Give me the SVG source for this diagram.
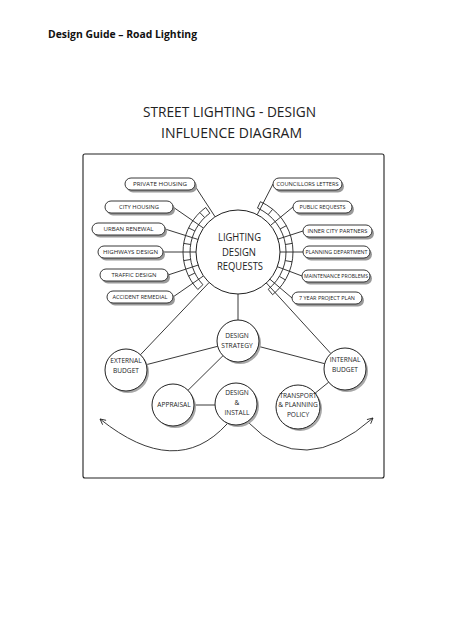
<svg xmlns="http://www.w3.org/2000/svg" width="452" height="640" viewBox="0 0 452 640">
<defs>
<style>
.pill{fill:#fff;stroke:#222;stroke-width:0.9}
.psh{fill:#9a9a9a}
.pt{font-family:"Open Sans","Liberation Sans",sans-serif;font-size:5.3px;fill:#222;text-anchor:middle}
.ct{font-family:"Open Sans","Liberation Sans",sans-serif;font-size:6.6px;fill:#222;text-anchor:middle}
.node{fill:#fff;stroke:#222;stroke-width:1}
.csh{fill:#a8a8a8}
.ln{stroke:#222;stroke-width:0.9;fill:none}
</style>
<marker id="ah" viewBox="0 0 10 10" refX="9" refY="5" markerWidth="7" markerHeight="7" orient="auto" markerUnits="userSpaceOnUse">
<path d="M1 1 L9 5 L1 9" fill="none" stroke="#222" stroke-width="1.2"/>
</marker>
</defs>
<rect width="452" height="640" fill="#fff"/>
<text x="48" y="38" font-family="'Open Sans','Liberation Sans',sans-serif" font-weight="bold" font-size="10" fill="#111" textLength="149" lengthAdjust="spacingAndGlyphs">Design Guide – Road Lighting</text>
<g id="title" font-family="'Open Sans','Liberation Sans',sans-serif" font-size="14" fill="#222" text-anchor="middle">
<text x="229.5" y="117" textLength="173" lengthAdjust="spacingAndGlyphs">STREET LIGHTING - DESIGN</text>
<text x="231.5" y="138" textLength="141" lengthAdjust="spacingAndGlyphs">INFLUENCE DIAGRAM</text>
</g>
<rect id="frame" x="83" y="154" width="301" height="324" rx="2" fill="none" stroke="#222" stroke-width="1.1"/>
<g id="connectors" class="ln">
<line x1="195" y1="186" x2="215.1" y2="216.8"/>
<line x1="173" y1="207" x2="203.5" y2="228.1"/>
<line x1="165" y1="229" x2="197.9" y2="239.4"/>
<line x1="163" y1="252" x2="196" y2="252"/>
<line x1="168" y1="275" x2="198.1" y2="265.1"/>
<line x1="173" y1="297" x2="203.5" y2="275.9"/>
<line x1="140.4" y1="354.8" x2="209.1" y2="282.5"/>
<line x1="273" y1="184" x2="257.2" y2="214.7"/>
<line x1="293" y1="207" x2="270.5" y2="225.4"/>
<line x1="303" y1="231" x2="278" y2="239.1"/>
<line x1="303" y1="252" x2="280" y2="252"/>
<line x1="302" y1="276" x2="277.3" y2="266.7"/>
<line x1="292" y1="298" x2="270" y2="279.3"/>
<line x1="330.8" y1="353.5" x2="266.4" y2="283"/>
<path d="M209.8 213.2 A48 48 0 0 0 202.9 284.7"/>
<path d="M205.7 207.5 A55 55 0 0 0 197.8 289.5"/>
<path d="M209.8 213.2 L205.7 207.5 M202.9 284.7 L197.8 289.5"/>
<path d="M204.6 217.5 L199.8 212.5 M194.9 231 L188.6 227.9 M190.6 244.5 L183.7 243.4 M190.6 259.5 L183.7 260.6 M194.9 273 L188.6 276.1"/>
<path d="M257.5 208.1 A48 48 0 0 1 268.2 289.3"/>
<path d="M260.4 201.7 A55 55 0 0 1 272.6 294.7"/>
<path d="M257.5 208.1 L260.4 201.7 M268.2 289.3 L272.6 294.7"/>
<path d="M268.2 214.7 L272.6 209.3 M280.1 229 L286.3 225.7 M285.4 244.5 L292.3 243.4 M285.2 260.6 L292.1 261.8 M279.4 276.4 L285.4 279.9"/>
<line x1="238" y1="294" x2="238" y2="320"/>
<line x1="217.7" y1="346.3" x2="146.3" y2="364.7"/>
<line x1="258.3" y1="346.3" x2="324.7" y2="363.7"/>
<line x1="223" y1="355.7" x2="188" y2="390.3"/>
<line x1="194" y1="405" x2="215" y2="405"/>
<line x1="315.1" y1="393.2" x2="328.7" y2="382.2"/>
<path d="M227 424 Q176 480 100 419" marker-end="url(#ah)"/>
<path d="M249 423 Q303 479.5 373 418" marker-end="url(#ah)"/>
</g>
<g id="lighting-design-requests">
<circle cx="238" cy="252" r="42" class="node"/>
<g font-family="'Open Sans','Liberation Sans',sans-serif" font-size="11" fill="#222" text-anchor="middle">
<text x="239.5" y="241" textLength="43" lengthAdjust="spacingAndGlyphs">LIGHTING</text>
<text x="239" y="256" textLength="34" lengthAdjust="spacingAndGlyphs">DESIGN</text>
<text x="240" y="270" textLength="46" lengthAdjust="spacingAndGlyphs">REQUESTS</text>
</g>
</g>
<g id="private-housing"><rect x="127" y="180.5" width="70" height="12" rx="6" class="psh"/><rect x="125" y="178" width="70" height="12" rx="6" class="pill"/><text x="160" y="186" class="pt" textLength="54" lengthAdjust="spacingAndGlyphs">PRIVATE HOUSING</text></g>
<g id="city-housing"><rect x="107" y="203.5" width="68" height="12" rx="6" class="psh"/><rect x="105" y="201" width="68" height="12" rx="6" class="pill"/><text x="139" y="209" class="pt" textLength="40" lengthAdjust="spacingAndGlyphs">CITY HOUSING</text></g>
<g id="urban-renewal"><rect x="94" y="225.5" width="73" height="12" rx="6" class="psh"/><rect x="92" y="223" width="73" height="12" rx="6" class="pill"/><text x="128.5" y="231" class="pt" textLength="50" lengthAdjust="spacingAndGlyphs">URBAN RENEWAL</text></g>
<g id="highways-design"><rect x="100" y="248.5" width="65" height="12" rx="6" class="psh"/><rect x="98" y="246" width="65" height="12" rx="6" class="pill"/><text x="130.5" y="254" class="pt" textLength="55" lengthAdjust="spacingAndGlyphs">HIGHWAYS DESIGN</text></g>
<g id="traffic-design"><rect x="102" y="271.5" width="68" height="12" rx="6" class="psh"/><rect x="100" y="269" width="68" height="12" rx="6" class="pill"/><text x="134" y="277" class="pt" textLength="45" lengthAdjust="spacingAndGlyphs">TRAFFIC DESIGN</text></g>
<g id="accident-remedial"><rect x="109" y="293.5" width="66" height="12" rx="6" class="psh"/><rect x="107" y="291" width="66" height="12" rx="6" class="pill"/><text x="140" y="299" class="pt" textLength="55" lengthAdjust="spacingAndGlyphs">ACCIDENT REMEDIAL</text></g>
<g id="councillors-letters"><rect x="275" y="180.5" width="69" height="12" rx="6" class="psh"/><rect x="273" y="178" width="69" height="12" rx="6" class="pill"/><text x="307.5" y="186" class="pt" textLength="62" lengthAdjust="spacingAndGlyphs">COUNCILLORS LETTERS</text></g>
<g id="public-requests"><rect x="295" y="203.5" width="59" height="12" rx="6" class="psh"/><rect x="293" y="201" width="59" height="12" rx="6" class="pill"/><text x="322.5" y="209" class="pt" textLength="46" lengthAdjust="spacingAndGlyphs">PUBLIC REQUESTS</text></g>
<g id="inner-city-partners"><rect x="305" y="227.5" width="69" height="12" rx="6" class="psh"/><rect x="303" y="225" width="69" height="12" rx="6" class="pill"/><text x="337.5" y="233" class="pt" textLength="60" lengthAdjust="spacingAndGlyphs">INNER CITY PARTNERS</text></g>
<g id="planning-department"><rect x="305" y="248.5" width="67" height="12" rx="6" class="psh"/><rect x="303" y="246" width="67" height="12" rx="6" class="pill"/><text x="336.5" y="254" class="pt" textLength="62" lengthAdjust="spacingAndGlyphs">PLANNING DEPARTMENT</text></g>
<g id="maintenance-problems"><rect x="304" y="272.5" width="68" height="12" rx="6" class="psh"/><rect x="302" y="270" width="68" height="12" rx="6" class="pill"/><text x="336" y="278" class="pt" textLength="64" lengthAdjust="spacingAndGlyphs">MAINTENANCE PROBLEMS</text></g>
<g id="seven-year-project-plan"><rect x="294" y="294.5" width="70" height="12" rx="6" class="psh"/><rect x="292" y="292" width="70" height="12" rx="6" class="pill"/><text x="327" y="300" class="pt" textLength="56" lengthAdjust="spacingAndGlyphs">7 YEAR PROJECT PLAN</text></g>
<g id="design-strategy"><circle cx="240" cy="343" r="21" class="csh"/><circle cx="238" cy="341" r="21" class="node"/><text x="237" y="338" class="ct">DESIGN</text><text x="237" y="348" class="ct">STRATEGY</text></g>
<g id="external-budget"><circle cx="128" cy="372" r="21" class="csh"/><circle cx="126" cy="370" r="21" class="node"/><text x="126" y="363" class="ct">EXTERNAL</text><text x="126" y="373" class="ct">BUDGET</text></g>
<g id="internal-budget"><circle cx="347" cy="371" r="21" class="csh"/><circle cx="345" cy="369" r="21" class="node"/><text x="345" y="362" class="ct">INTERNAL</text><text x="345" y="372" class="ct">BUDGET</text></g>
<g id="appraisal"><circle cx="175" cy="407" r="21" class="csh"/><circle cx="173" cy="405" r="21" class="node"/><text x="174" y="407" class="ct">APPRAISAL</text></g>
<g id="design-install"><circle cx="238" cy="406" r="21" class="csh"/><circle cx="236" cy="404" r="21" class="node"/><text x="237" y="395" class="ct">DESIGN</text><text x="237" y="405" class="ct">&amp;</text><text x="237" y="415" class="ct">INSTALL</text></g>
<g id="transport-planning-policy"><circle cx="300" cy="409" r="22" class="csh"/><circle cx="298" cy="407" r="22" class="node"/><text x="298" y="398" class="ct">TRANSPORT</text><text x="298" y="407" class="ct">&amp; PLANNING</text><text x="298" y="417" class="ct">POLICY</text></g>
</svg>
